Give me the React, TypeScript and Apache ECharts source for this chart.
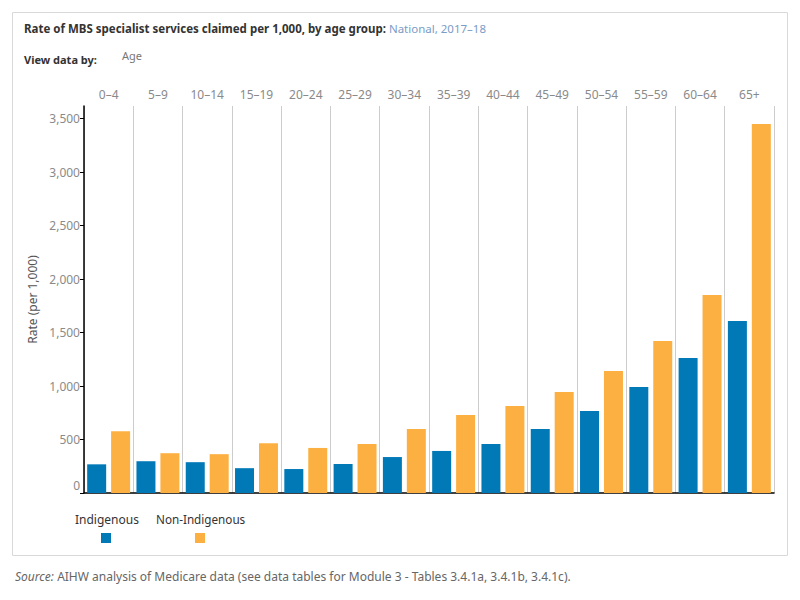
import React, { useEffect, useRef } from "react";
import * as echarts from "echarts";

const ageGroups = ["0–4", "5–9", "10–14", "15–19", "20–24", "25–29", "30–34", "35–39", "40–44", "45–49", "50–54", "55–59", "60–64", "65+"];
const indigenous = [268, 297, 288, 232, 224, 271, 336, 393, 458, 598, 766, 991, 1262, 1607];
const nonIndigenous = [578, 372, 363, 465, 421, 458, 598, 729, 813, 944, 1140, 1421, 1850, 3449];
const yTicks = [0, 500, 1000, 1500, 2000, 2500, 3000, 3500];

const BLUE = "#0179b7";
const ORANGE = "#fdb042";
const FONT = "Noto Sans";

export default function App() {
  const ref = useRef<HTMLDivElement>(null);
  useEffect(() => {
    if (!ref.current) return;
    const chart = echarts.init(ref.current, null, { renderer: "svg" });
    chart.setOption({
      animation: false,
      backgroundColor: "#ffffff",
      textStyle: { fontFamily: FONT },
      grid: { left: 84, right: 26, top: 106, bottom: 107, containLabel: false },
      xAxis: [
        {
          type: "category",
          data: ageGroups,
          position: "top",
          axisLine: { show: false },
          axisTick: { show: false },
          axisLabel: { color: "#8a8a8a", fontSize: 12, margin: 6, fontFamily: FONT },
          splitLine: { show: true, lineStyle: { color: "#cccccc", width: 1 } },
        },
        {
          type: "category",
          data: ageGroups,
          position: "bottom",
          axisLine: { show: true, lineStyle: { color: "#000000", width: 1.5 } },
          axisTick: { show: false },
          axisLabel: { show: false },
          splitLine: { show: false },
        },
      ],
      yAxis: {
        type: "value",
        min: 0,
        max: 3617,
        name: "Rate (per 1,000)",
        nameLocation: "middle",
        nameGap: 46,
        nameTextStyle: { color: "#555555", fontSize: 12, fontFamily: FONT },
        axisLine: { show: true, lineStyle: { color: "#000000", width: 1.5 } },
        axisTick: { show: true, length: 4, customValues: yTicks, lineStyle: { color: "#000000" } },
        axisLabel: {
          color: "#8a8a8a",
          fontSize: 12,
          margin: 4,
          fontFamily: FONT,
          customValues: yTicks,
          formatter: (v: number) => (v === 0 ? "{z|0}" : v.toLocaleString("en-US")),
          rich: {
            z: { color: "#8a8a8a", fontSize: 12, fontFamily: FONT, padding: [0, 0, 16, 0] },
          },
        },
        splitLine: { show: false },
      },
      series: [
        {
          name: "Indigenous",
          type: "bar",
          data: indigenous,
          xAxisIndex: 0,
          barWidth: 19,
          barGap: "26%",
          itemStyle: { color: BLUE },
        },
        {
          name: "Non-Indigenous",
          type: "bar",
          data: nonIndigenous,
          xAxisIndex: 0,
          barWidth: 19,
          barGap: "26%",
          itemStyle: { color: ORANGE },
        },
      ],
      graphic: [
        {
          type: "rect",
          shape: { x: 12.5, y: 12.5, width: 775, height: 543 },
          style: { fill: "none", stroke: "#d9d9d9", lineWidth: 1 },
          silent: true,
        },
        {
          type: "text",
          left: 24,
          top: 22,
          style: {
            text: "{b|Rate of MBS specialist services claimed per 1,000, by age group: }{n|National, 2017–18}",
            rich: {
              b: { fontWeight: "bold", fontSize: 11.5, fill: "#333333", fontFamily: FONT },
              n: { fontSize: 11.5, fill: "#7a9cc6", fontFamily: FONT },
            },
          },
        },
        {
          type: "text",
          left: 24,
          top: 54,
          style: { text: "View data by:", fontWeight: "bold", fontSize: 11, fill: "#333333", fontFamily: FONT },
        },
        {
          type: "text",
          left: 122,
          top: 50,
          style: { text: "Age", fontSize: 11, fill: "#777777", fontFamily: FONT },
        },
        {
          type: "text",
          left: 75,
          top: 513,
          style: { text: "Indigenous", fontSize: 12, fill: "#333333", fontFamily: FONT },
        },
        {
          type: "rect",
          shape: { x: 101, y: 533, width: 10, height: 10 },
          style: { fill: BLUE },
        },
        {
          type: "text",
          left: 156,
          top: 513,
          style: { text: "Non-Indigenous", fontSize: 11.7, fill: "#333333", fontFamily: FONT },
        },
        {
          type: "rect",
          shape: { x: 195, y: 533, width: 10, height: 10 },
          style: { fill: ORANGE },
        },
        {
          type: "text",
          left: 15,
          top: 570,
          style: {
            text: "{i|Source:} {r|AIHW analysis of Medicare data (see data tables for Module 3 - Tables 3.4.1a, 3.4.1b, 3.4.1c).}",
            rich: {
              i: { fontStyle: "italic", fontSize: 12, fill: "#666666", fontFamily: FONT },
              r: { fontSize: 12, fill: "#666666", fontFamily: FONT },
            },
          },
        },
      ],
    });
    return () => chart.dispose();
  }, []);
  return (
    <div
      ref={ref}
      style={{ position: "fixed", left: 0, top: 0, width: 800, height: 600 }}
    />
  );
}
